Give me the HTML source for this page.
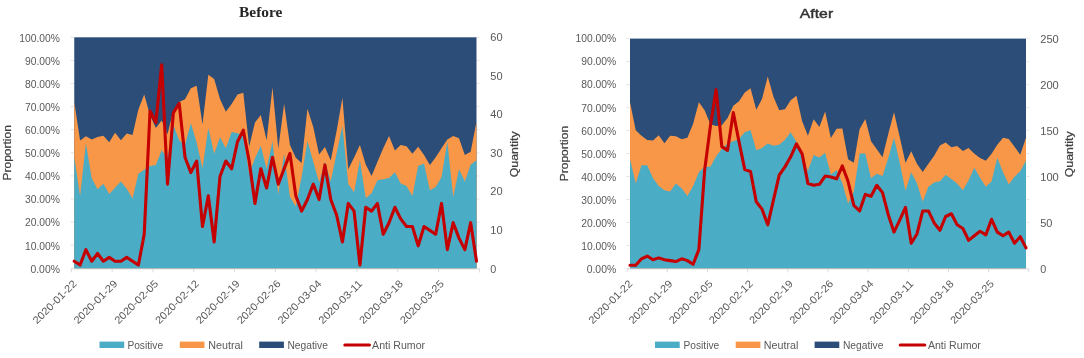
<!DOCTYPE html>
<html lang="en">
<head>
<meta charset="utf-8">
<title>Before / After sentiment proportion and anti-rumor quantity</title>
<style>
html,body{margin:0;padding:0;background:#ffffff;}
body{width:1084px;height:358px;overflow:hidden;font-family:"Liberation Sans", sans-serif;}
svg{display:block;}
svg text{font-family:"Liberation Sans", sans-serif;}
</style>
</head>
<body>
<svg width="1084" height="358" viewBox="0 0 1084 358">
<rect x="0" y="0" width="1084" height="358" fill="#ffffff"/>
<g id="chart-before">
<rect x="74.25" y="37.30" width="402.25" height="231.10" fill="#2c4d78"/>
<polygon points="74.25,268.40 74.25,102.01 80.08,140.60 85.91,136.21 91.74,139.45 97.57,136.90 103.40,135.75 109.23,142.22 115.06,132.74 120.89,140.14 126.72,133.44 132.55,135.06 138.38,109.40 144.21,94.38 150.04,115.18 155.87,127.89 161.70,120.50 167.53,134.13 173.36,110.33 179.18,102.01 185.01,99.23 190.84,88.14 196.67,85.83 202.50,124.19 208.33,74.74 214.16,78.90 219.99,99.00 225.82,111.71 231.65,104.09 237.48,94.38 243.31,92.76 249.14,146.84 254.97,122.58 260.80,114.95 266.63,140.14 272.46,87.22 278.29,148.69 284.12,103.86 289.95,144.99 295.78,157.70 301.61,163.02 307.44,108.71 313.27,126.97 319.10,154.47 324.93,147.07 330.76,160.48 336.59,130.90 342.42,97.85 348.25,169.26 354.08,157.47 359.91,144.99 365.74,164.41 371.57,175.96 377.39,162.09 383.22,148.23 389.05,135.98 394.88,150.54 400.71,144.99 406.54,146.15 412.37,153.77 418.20,146.84 424.03,154.93 429.86,165.10 435.69,157.24 441.52,148.23 447.35,139.45 453.18,135.98 459.01,138.29 464.84,154.93 470.67,151.69 476.50,121.65 476.50,268.40" fill="#f89747"/>
<polygon points="74.25,268.40 74.25,157.01 80.08,196.07 85.91,143.14 91.74,178.27 97.57,189.36 103.40,183.82 109.23,193.99 115.06,187.75 120.89,181.51 126.72,188.67 132.55,198.38 138.38,173.65 144.21,169.72 150.04,166.02 155.87,165.10 161.70,150.31 167.53,158.17 173.36,125.12 179.18,140.37 185.01,144.76 190.84,123.04 196.67,142.68 202.50,168.33 208.33,128.12 214.16,153.77 219.99,137.14 225.82,148.23 231.65,132.05 237.48,133.21 243.31,135.06 249.14,173.65 254.97,158.17 260.80,145.69 266.63,169.03 272.46,141.30 278.29,194.45 284.12,153.77 289.95,196.76 295.78,206.47 301.61,176.65 307.44,141.06 313.27,161.63 319.10,182.43 324.93,161.86 330.76,181.28 336.59,153.31 342.42,126.04 348.25,184.05 354.08,192.14 359.91,160.25 365.74,197.91 371.57,193.29 377.39,180.35 383.22,179.20 389.05,178.04 394.88,172.26 400.71,183.59 406.54,185.90 412.37,196.07 418.20,166.02 424.03,163.48 429.86,190.29 435.69,187.05 441.52,176.88 447.35,141.53 453.18,196.99 459.01,169.26 464.84,181.51 470.67,164.87 476.50,160.25 476.50,268.40" fill="#4bacc6"/>
<polyline points="74.25,261.20 80.08,265.05 85.91,249.64 91.74,261.20 97.57,253.49 103.40,261.20 109.23,257.34 115.06,261.20 120.89,261.20 126.72,257.34 132.55,261.20 138.38,265.05 144.21,234.23 150.04,110.98 155.87,122.54 161.70,64.76 167.53,184.16 173.36,112.91 179.18,103.28 185.01,157.20 190.84,172.61 196.67,161.05 202.50,226.53 208.33,195.72 214.16,241.94 219.99,176.46 225.82,161.05 231.65,168.76 237.48,141.79 243.31,130.24 249.14,161.05 254.97,203.42 260.80,168.76 266.63,188.01 272.46,157.20 278.29,184.16 284.12,168.76 289.95,153.35 295.78,195.72 301.61,211.12 307.44,199.57 313.27,184.16 319.10,199.57 324.93,164.91 330.76,199.57 336.59,214.98 342.42,241.94 348.25,203.42 354.08,211.12 359.91,265.05 365.74,207.27 371.57,211.12 377.39,203.42 383.22,234.23 389.05,222.68 394.88,207.27 400.71,218.83 406.54,226.53 412.37,226.53 418.20,245.79 424.03,226.53 429.86,230.38 435.69,234.23 441.52,203.42 447.35,249.64 453.18,222.68 459.01,238.09 464.84,249.64 470.67,222.68 476.50,261.20" fill="none" stroke="#c40000" stroke-width="3.1" stroke-linejoin="round" stroke-linecap="round"/>
<line x1="71.34" y1="269.00" x2="479.41" y2="269.00" stroke="#d9d9d9" stroke-width="0.8"/>
<line x1="71.34" y1="269.00" x2="71.34" y2="272.40" stroke="#d0d0d0" stroke-width="0.8"/>
<line x1="112.14" y1="269.00" x2="112.14" y2="272.40" stroke="#d0d0d0" stroke-width="0.8"/>
<line x1="152.95" y1="269.00" x2="152.95" y2="272.40" stroke="#d0d0d0" stroke-width="0.8"/>
<line x1="193.76" y1="269.00" x2="193.76" y2="272.40" stroke="#d0d0d0" stroke-width="0.8"/>
<line x1="234.57" y1="269.00" x2="234.57" y2="272.40" stroke="#d0d0d0" stroke-width="0.8"/>
<line x1="275.38" y1="269.00" x2="275.38" y2="272.40" stroke="#d0d0d0" stroke-width="0.8"/>
<line x1="316.18" y1="269.00" x2="316.18" y2="272.40" stroke="#d0d0d0" stroke-width="0.8"/>
<line x1="356.99" y1="269.00" x2="356.99" y2="272.40" stroke="#d0d0d0" stroke-width="0.8"/>
<line x1="397.80" y1="269.00" x2="397.80" y2="272.40" stroke="#d0d0d0" stroke-width="0.8"/>
<line x1="438.61" y1="269.00" x2="438.61" y2="272.40" stroke="#d0d0d0" stroke-width="0.8"/>
<line x1="479.41" y1="269.00" x2="479.41" y2="272.40" stroke="#d0d0d0" stroke-width="0.8"/>
<line x1="70.75" y1="268.40" x2="73.75" y2="268.40" stroke="#d9d9d9" stroke-width="0.8"/>
<line x1="477.00" y1="268.40" x2="479.50" y2="268.40" stroke="#e0e0e0" stroke-width="0.8"/>
<line x1="70.75" y1="245.29" x2="73.75" y2="245.29" stroke="#d9d9d9" stroke-width="0.8"/>
<line x1="477.00" y1="245.29" x2="479.50" y2="245.29" stroke="#e0e0e0" stroke-width="0.8"/>
<line x1="70.75" y1="222.18" x2="73.75" y2="222.18" stroke="#d9d9d9" stroke-width="0.8"/>
<line x1="477.00" y1="222.18" x2="479.50" y2="222.18" stroke="#e0e0e0" stroke-width="0.8"/>
<line x1="70.75" y1="199.07" x2="73.75" y2="199.07" stroke="#d9d9d9" stroke-width="0.8"/>
<line x1="477.00" y1="199.07" x2="479.50" y2="199.07" stroke="#e0e0e0" stroke-width="0.8"/>
<line x1="70.75" y1="175.96" x2="73.75" y2="175.96" stroke="#d9d9d9" stroke-width="0.8"/>
<line x1="477.00" y1="175.96" x2="479.50" y2="175.96" stroke="#e0e0e0" stroke-width="0.8"/>
<line x1="70.75" y1="152.85" x2="73.75" y2="152.85" stroke="#d9d9d9" stroke-width="0.8"/>
<line x1="477.00" y1="152.85" x2="479.50" y2="152.85" stroke="#e0e0e0" stroke-width="0.8"/>
<line x1="70.75" y1="129.74" x2="73.75" y2="129.74" stroke="#d9d9d9" stroke-width="0.8"/>
<line x1="477.00" y1="129.74" x2="479.50" y2="129.74" stroke="#e0e0e0" stroke-width="0.8"/>
<line x1="70.75" y1="106.63" x2="73.75" y2="106.63" stroke="#d9d9d9" stroke-width="0.8"/>
<line x1="477.00" y1="106.63" x2="479.50" y2="106.63" stroke="#e0e0e0" stroke-width="0.8"/>
<line x1="70.75" y1="83.52" x2="73.75" y2="83.52" stroke="#d9d9d9" stroke-width="0.8"/>
<line x1="477.00" y1="83.52" x2="479.50" y2="83.52" stroke="#e0e0e0" stroke-width="0.8"/>
<line x1="70.75" y1="60.41" x2="73.75" y2="60.41" stroke="#d9d9d9" stroke-width="0.8"/>
<line x1="477.00" y1="60.41" x2="479.50" y2="60.41" stroke="#e0e0e0" stroke-width="0.8"/>
<line x1="70.75" y1="37.30" x2="73.75" y2="37.30" stroke="#d9d9d9" stroke-width="0.8"/>
<line x1="477.00" y1="37.30" x2="479.50" y2="37.30" stroke="#e0e0e0" stroke-width="0.8"/>
<text x="59.95" y="272.70" text-anchor="end" font-size="10.5" fill="#595959" textLength="29.5" lengthAdjust="spacingAndGlyphs">0.00%</text>
<text x="59.95" y="249.59" text-anchor="end" font-size="10.5" fill="#595959" textLength="35.0" lengthAdjust="spacingAndGlyphs">10.00%</text>
<text x="59.95" y="226.48" text-anchor="end" font-size="10.5" fill="#595959" textLength="35.0" lengthAdjust="spacingAndGlyphs">20.00%</text>
<text x="59.95" y="203.37" text-anchor="end" font-size="10.5" fill="#595959" textLength="35.0" lengthAdjust="spacingAndGlyphs">30.00%</text>
<text x="59.95" y="180.26" text-anchor="end" font-size="10.5" fill="#595959" textLength="35.0" lengthAdjust="spacingAndGlyphs">40.00%</text>
<text x="59.95" y="157.15" text-anchor="end" font-size="10.5" fill="#595959" textLength="35.0" lengthAdjust="spacingAndGlyphs">50.00%</text>
<text x="59.95" y="134.04" text-anchor="end" font-size="10.5" fill="#595959" textLength="35.0" lengthAdjust="spacingAndGlyphs">60.00%</text>
<text x="59.95" y="110.93" text-anchor="end" font-size="10.5" fill="#595959" textLength="35.0" lengthAdjust="spacingAndGlyphs">70.00%</text>
<text x="59.95" y="87.82" text-anchor="end" font-size="10.5" fill="#595959" textLength="35.0" lengthAdjust="spacingAndGlyphs">80.00%</text>
<text x="59.95" y="64.71" text-anchor="end" font-size="10.5" fill="#595959" textLength="35.0" lengthAdjust="spacingAndGlyphs">90.00%</text>
<text x="59.95" y="41.60" text-anchor="end" font-size="10.5" fill="#595959" textLength="40.6" lengthAdjust="spacingAndGlyphs">100.00%</text>
<text x="490.30" y="272.60" font-size="11.2" fill="#595959" textLength="6.0" lengthAdjust="spacingAndGlyphs">0</text>
<text x="490.30" y="234.00" font-size="11.2" fill="#595959" textLength="12.3" lengthAdjust="spacingAndGlyphs">10</text>
<text x="490.30" y="195.40" font-size="11.2" fill="#595959" textLength="12.3" lengthAdjust="spacingAndGlyphs">20</text>
<text x="490.30" y="156.80" font-size="11.2" fill="#595959" textLength="12.3" lengthAdjust="spacingAndGlyphs">30</text>
<text x="490.30" y="118.20" font-size="11.2" fill="#595959" textLength="12.3" lengthAdjust="spacingAndGlyphs">40</text>
<text x="490.30" y="79.60" font-size="11.2" fill="#595959" textLength="12.3" lengthAdjust="spacingAndGlyphs">50</text>
<text x="490.30" y="41.00" font-size="11.2" fill="#595959" textLength="12.3" lengthAdjust="spacingAndGlyphs">60</text>
<text transform="translate(77.25,284.40) rotate(-45)" text-anchor="end" font-size="10.5" fill="#595959" textLength="56.8" lengthAdjust="spacingAndGlyphs">2020-01-22</text>
<text transform="translate(118.06,284.40) rotate(-45)" text-anchor="end" font-size="10.5" fill="#595959" textLength="56.8" lengthAdjust="spacingAndGlyphs">2020-01-29</text>
<text transform="translate(158.87,284.40) rotate(-45)" text-anchor="end" font-size="10.5" fill="#595959" textLength="56.8" lengthAdjust="spacingAndGlyphs">2020-02-05</text>
<text transform="translate(199.67,284.40) rotate(-45)" text-anchor="end" font-size="10.5" fill="#595959" textLength="56.8" lengthAdjust="spacingAndGlyphs">2020-02-12</text>
<text transform="translate(240.48,284.40) rotate(-45)" text-anchor="end" font-size="10.5" fill="#595959" textLength="56.8" lengthAdjust="spacingAndGlyphs">2020-02-19</text>
<text transform="translate(281.29,284.40) rotate(-45)" text-anchor="end" font-size="10.5" fill="#595959" textLength="56.8" lengthAdjust="spacingAndGlyphs">2020-02-26</text>
<text transform="translate(322.10,284.40) rotate(-45)" text-anchor="end" font-size="10.5" fill="#595959" textLength="56.8" lengthAdjust="spacingAndGlyphs">2020-03-04</text>
<text transform="translate(362.91,284.40) rotate(-45)" text-anchor="end" font-size="10.5" fill="#595959" textLength="56.8" lengthAdjust="spacingAndGlyphs">2020-03-11</text>
<text transform="translate(403.71,284.40) rotate(-45)" text-anchor="end" font-size="10.5" fill="#595959" textLength="56.8" lengthAdjust="spacingAndGlyphs">2020-03-18</text>
<text transform="translate(444.52,284.40) rotate(-45)" text-anchor="end" font-size="10.5" fill="#595959" textLength="56.8" lengthAdjust="spacingAndGlyphs">2020-03-25</text>
<text transform="translate(11.40,152.8) rotate(-90)" text-anchor="middle" font-size="10.8" fill="#404040" stroke="#404040" stroke-width="0.22" textLength="55.3" lengthAdjust="spacingAndGlyphs">Proportion</text>
<text transform="translate(517.60,154.3) rotate(-90)" text-anchor="middle" font-size="10.8" fill="#404040" stroke="#404040" stroke-width="0.22" textLength="46" lengthAdjust="spacingAndGlyphs">Quantity</text>
<text x="260.7" y="17.2" text-anchor="middle" style="font-family:&quot;Liberation Serif&quot;,serif" font-weight="bold" font-size="15.6" fill="#262626" textLength="43.2" lengthAdjust="spacingAndGlyphs">Before</text>
<rect x="99.50" y="341.6" width="24.7" height="6.4" fill="#4bacc6"/>
<text x="127.40" y="348.7" font-size="10.2" fill="#595959" textLength="35.7" lengthAdjust="spacingAndGlyphs">Positive</text>
<rect x="179.80" y="341.6" width="24.7" height="6.4" fill="#f89747"/>
<text x="208.30" y="348.7" font-size="10.2" fill="#595959" textLength="34.6" lengthAdjust="spacingAndGlyphs">Neutral</text>
<rect x="259.20" y="341.6" width="24.7" height="6.4" fill="#2c4d78"/>
<text x="287.40" y="348.7" font-size="10.2" fill="#595959" textLength="40.5" lengthAdjust="spacingAndGlyphs">Negative</text>
<line x1="344.80" y1="345.1" x2="369.50" y2="345.1" stroke="#c40000" stroke-width="3" stroke-linecap="round"/>
<text x="372.10" y="348.7" font-size="10.2" fill="#595959" textLength="53" lengthAdjust="spacingAndGlyphs">Anti Rumor</text>
</g>
<g id="chart-after">
<rect x="630.00" y="38.60" width="396.00" height="229.80" fill="#2c4d78"/>
<polygon points="630.00,268.40 630.00,102.25 635.74,130.29 641.48,135.81 647.22,139.94 652.96,140.40 658.70,135.35 664.43,143.16 670.17,135.81 675.91,136.26 681.65,139.25 687.39,137.64 693.13,123.63 698.87,102.25 704.61,110.30 710.35,124.32 716.09,125.92 721.83,125.23 727.57,118.11 733.30,105.70 739.04,101.34 744.78,92.60 750.52,88.24 756.26,109.84 762.00,99.04 767.74,76.52 773.48,96.74 779.22,110.30 784.96,109.15 790.70,100.19 796.43,95.82 802.17,121.33 807.91,135.81 813.65,119.26 819.39,127.07 825.13,111.45 830.87,138.10 836.61,128.68 842.35,128.45 848.09,159.24 853.83,162.69 859.57,129.14 865.30,119.03 871.04,141.32 876.78,149.13 882.52,157.18 888.26,133.97 894.00,112.37 899.74,136.95 905.48,162.69 911.22,151.20 916.96,163.84 922.70,171.88 928.43,163.84 934.17,155.80 939.91,145.46 945.65,142.47 951.39,147.30 957.13,145.92 962.87,150.97 968.61,147.98 974.35,153.73 980.09,158.10 985.83,160.85 991.57,153.73 997.30,144.77 1003.04,137.87 1008.78,139.02 1014.52,146.84 1020.26,154.65 1026.00,137.87 1026.00,268.40" fill="#f89747"/>
<polygon points="630.00,268.40 630.00,159.02 635.74,183.60 641.48,165.22 647.22,165.22 652.96,178.09 658.70,185.90 664.43,190.27 670.17,191.42 675.91,183.60 681.65,188.20 687.39,196.01 693.13,185.90 698.87,172.34 704.61,166.83 710.35,166.83 716.09,156.26 721.83,148.90 727.57,143.62 733.30,141.32 739.04,139.02 744.78,132.36 750.52,130.06 756.26,150.28 762.00,147.98 767.74,143.62 773.48,145.69 779.22,144.77 784.96,139.71 790.70,132.36 796.43,142.01 802.17,158.10 807.91,170.73 813.65,155.11 819.39,157.41 825.13,152.81 830.87,174.64 836.61,170.05 842.35,183.37 848.09,203.60 853.83,191.42 859.57,153.50 865.30,153.50 871.04,178.32 876.78,173.72 882.52,176.02 888.26,158.10 894.00,137.87 899.74,162.69 905.48,190.73 911.22,172.34 916.96,183.37 922.70,201.76 928.43,186.82 934.17,182.45 939.91,181.31 945.65,174.64 951.39,179.01 957.13,183.60 962.87,190.27 968.61,180.16 974.35,167.75 980.09,177.86 985.83,186.82 991.57,181.31 997.30,157.87 1003.04,172.34 1008.78,184.52 1014.52,176.71 1020.26,171.19 1026.00,160.85 1026.00,268.40" fill="#4bacc6"/>
<polyline points="630.00,265.22 635.74,265.22 641.48,258.79 647.22,256.03 652.96,259.71 658.70,257.87 664.43,259.71 670.17,260.63 675.91,261.55 681.65,258.79 687.39,260.63 693.13,264.30 698.87,249.60 704.61,170.55 710.35,126.42 716.09,89.66 721.83,146.65 727.57,150.32 733.30,112.64 739.04,142.05 744.78,169.63 750.52,171.46 756.26,201.80 762.00,209.15 767.74,224.78 773.48,199.96 779.22,175.14 784.96,166.87 790.70,156.76 796.43,143.89 802.17,154.00 807.91,183.41 813.65,185.25 819.39,184.33 825.13,176.06 830.87,176.98 836.61,178.82 842.35,165.95 848.09,181.58 853.83,205.48 859.57,210.99 865.30,194.44 871.04,196.28 876.78,185.25 882.52,192.61 888.26,214.67 894.00,232.13 899.74,220.18 905.48,207.31 911.22,243.16 916.96,233.97 922.70,210.99 928.43,210.99 934.17,222.94 939.91,230.29 945.65,216.51 951.39,213.75 957.13,224.78 962.87,228.46 968.61,240.40 974.35,235.81 980.09,231.21 985.83,234.89 991.57,219.26 997.30,232.13 1003.04,235.81 1008.78,232.13 1014.52,243.16 1020.26,236.73 1026.00,247.76" fill="none" stroke="#c40000" stroke-width="3.1" stroke-linejoin="round" stroke-linecap="round"/>
<line x1="627.13" y1="269.00" x2="1028.87" y2="269.00" stroke="#d9d9d9" stroke-width="0.8"/>
<line x1="627.13" y1="269.00" x2="627.13" y2="272.40" stroke="#d0d0d0" stroke-width="0.8"/>
<line x1="667.30" y1="269.00" x2="667.30" y2="272.40" stroke="#d0d0d0" stroke-width="0.8"/>
<line x1="707.48" y1="269.00" x2="707.48" y2="272.40" stroke="#d0d0d0" stroke-width="0.8"/>
<line x1="747.65" y1="269.00" x2="747.65" y2="272.40" stroke="#d0d0d0" stroke-width="0.8"/>
<line x1="787.83" y1="269.00" x2="787.83" y2="272.40" stroke="#d0d0d0" stroke-width="0.8"/>
<line x1="828.00" y1="269.00" x2="828.00" y2="272.40" stroke="#d0d0d0" stroke-width="0.8"/>
<line x1="868.17" y1="269.00" x2="868.17" y2="272.40" stroke="#d0d0d0" stroke-width="0.8"/>
<line x1="908.35" y1="269.00" x2="908.35" y2="272.40" stroke="#d0d0d0" stroke-width="0.8"/>
<line x1="948.52" y1="269.00" x2="948.52" y2="272.40" stroke="#d0d0d0" stroke-width="0.8"/>
<line x1="988.70" y1="269.00" x2="988.70" y2="272.40" stroke="#d0d0d0" stroke-width="0.8"/>
<line x1="1028.87" y1="269.00" x2="1028.87" y2="272.40" stroke="#d0d0d0" stroke-width="0.8"/>
<line x1="626.50" y1="268.40" x2="629.50" y2="268.40" stroke="#d9d9d9" stroke-width="0.8"/>
<line x1="1026.50" y1="268.40" x2="1029.00" y2="268.40" stroke="#e0e0e0" stroke-width="0.8"/>
<line x1="626.50" y1="245.42" x2="629.50" y2="245.42" stroke="#d9d9d9" stroke-width="0.8"/>
<line x1="1026.50" y1="245.42" x2="1029.00" y2="245.42" stroke="#e0e0e0" stroke-width="0.8"/>
<line x1="626.50" y1="222.44" x2="629.50" y2="222.44" stroke="#d9d9d9" stroke-width="0.8"/>
<line x1="1026.50" y1="222.44" x2="1029.00" y2="222.44" stroke="#e0e0e0" stroke-width="0.8"/>
<line x1="626.50" y1="199.46" x2="629.50" y2="199.46" stroke="#d9d9d9" stroke-width="0.8"/>
<line x1="1026.50" y1="199.46" x2="1029.00" y2="199.46" stroke="#e0e0e0" stroke-width="0.8"/>
<line x1="626.50" y1="176.48" x2="629.50" y2="176.48" stroke="#d9d9d9" stroke-width="0.8"/>
<line x1="1026.50" y1="176.48" x2="1029.00" y2="176.48" stroke="#e0e0e0" stroke-width="0.8"/>
<line x1="626.50" y1="153.50" x2="629.50" y2="153.50" stroke="#d9d9d9" stroke-width="0.8"/>
<line x1="1026.50" y1="153.50" x2="1029.00" y2="153.50" stroke="#e0e0e0" stroke-width="0.8"/>
<line x1="626.50" y1="130.52" x2="629.50" y2="130.52" stroke="#d9d9d9" stroke-width="0.8"/>
<line x1="1026.50" y1="130.52" x2="1029.00" y2="130.52" stroke="#e0e0e0" stroke-width="0.8"/>
<line x1="626.50" y1="107.54" x2="629.50" y2="107.54" stroke="#d9d9d9" stroke-width="0.8"/>
<line x1="1026.50" y1="107.54" x2="1029.00" y2="107.54" stroke="#e0e0e0" stroke-width="0.8"/>
<line x1="626.50" y1="84.56" x2="629.50" y2="84.56" stroke="#d9d9d9" stroke-width="0.8"/>
<line x1="1026.50" y1="84.56" x2="1029.00" y2="84.56" stroke="#e0e0e0" stroke-width="0.8"/>
<line x1="626.50" y1="61.58" x2="629.50" y2="61.58" stroke="#d9d9d9" stroke-width="0.8"/>
<line x1="1026.50" y1="61.58" x2="1029.00" y2="61.58" stroke="#e0e0e0" stroke-width="0.8"/>
<line x1="626.50" y1="38.60" x2="629.50" y2="38.60" stroke="#d9d9d9" stroke-width="0.8"/>
<line x1="1026.50" y1="38.60" x2="1029.00" y2="38.60" stroke="#e0e0e0" stroke-width="0.8"/>
<text x="616.20" y="273.00" text-anchor="end" font-size="10.5" fill="#595959" textLength="29.5" lengthAdjust="spacingAndGlyphs">0.00%</text>
<text x="616.20" y="249.93" text-anchor="end" font-size="10.5" fill="#595959" textLength="35.0" lengthAdjust="spacingAndGlyphs">10.00%</text>
<text x="616.20" y="226.86" text-anchor="end" font-size="10.5" fill="#595959" textLength="35.0" lengthAdjust="spacingAndGlyphs">20.00%</text>
<text x="616.20" y="203.79" text-anchor="end" font-size="10.5" fill="#595959" textLength="35.0" lengthAdjust="spacingAndGlyphs">30.00%</text>
<text x="616.20" y="180.72" text-anchor="end" font-size="10.5" fill="#595959" textLength="35.0" lengthAdjust="spacingAndGlyphs">40.00%</text>
<text x="616.20" y="157.65" text-anchor="end" font-size="10.5" fill="#595959" textLength="35.0" lengthAdjust="spacingAndGlyphs">50.00%</text>
<text x="616.20" y="134.58" text-anchor="end" font-size="10.5" fill="#595959" textLength="35.0" lengthAdjust="spacingAndGlyphs">60.00%</text>
<text x="616.20" y="111.51" text-anchor="end" font-size="10.5" fill="#595959" textLength="35.0" lengthAdjust="spacingAndGlyphs">70.00%</text>
<text x="616.20" y="88.44" text-anchor="end" font-size="10.5" fill="#595959" textLength="35.0" lengthAdjust="spacingAndGlyphs">80.00%</text>
<text x="616.20" y="65.37" text-anchor="end" font-size="10.5" fill="#595959" textLength="35.0" lengthAdjust="spacingAndGlyphs">90.00%</text>
<text x="616.20" y="42.30" text-anchor="end" font-size="10.5" fill="#595959" textLength="40.6" lengthAdjust="spacingAndGlyphs">100.00%</text>
<text x="1040.20" y="272.60" font-size="11.2" fill="#595959" textLength="6.0" lengthAdjust="spacingAndGlyphs">0</text>
<text x="1040.20" y="226.58" font-size="11.2" fill="#595959" textLength="12.3" lengthAdjust="spacingAndGlyphs">50</text>
<text x="1040.20" y="180.56" font-size="11.2" fill="#595959" textLength="18.6" lengthAdjust="spacingAndGlyphs">100</text>
<text x="1040.20" y="134.54" font-size="11.2" fill="#595959" textLength="18.6" lengthAdjust="spacingAndGlyphs">150</text>
<text x="1040.20" y="88.52" font-size="11.2" fill="#595959" textLength="18.6" lengthAdjust="spacingAndGlyphs">200</text>
<text x="1040.20" y="42.50" font-size="11.2" fill="#595959" textLength="18.6" lengthAdjust="spacingAndGlyphs">250</text>
<text transform="translate(633.00,284.40) rotate(-45)" text-anchor="end" font-size="10.5" fill="#595959" textLength="56.8" lengthAdjust="spacingAndGlyphs">2020-01-22</text>
<text transform="translate(673.17,284.40) rotate(-45)" text-anchor="end" font-size="10.5" fill="#595959" textLength="56.8" lengthAdjust="spacingAndGlyphs">2020-01-29</text>
<text transform="translate(713.35,284.40) rotate(-45)" text-anchor="end" font-size="10.5" fill="#595959" textLength="56.8" lengthAdjust="spacingAndGlyphs">2020-02-05</text>
<text transform="translate(753.52,284.40) rotate(-45)" text-anchor="end" font-size="10.5" fill="#595959" textLength="56.8" lengthAdjust="spacingAndGlyphs">2020-02-12</text>
<text transform="translate(793.70,284.40) rotate(-45)" text-anchor="end" font-size="10.5" fill="#595959" textLength="56.8" lengthAdjust="spacingAndGlyphs">2020-02-19</text>
<text transform="translate(833.87,284.40) rotate(-45)" text-anchor="end" font-size="10.5" fill="#595959" textLength="56.8" lengthAdjust="spacingAndGlyphs">2020-02-26</text>
<text transform="translate(874.04,284.40) rotate(-45)" text-anchor="end" font-size="10.5" fill="#595959" textLength="56.8" lengthAdjust="spacingAndGlyphs">2020-03-04</text>
<text transform="translate(914.22,284.40) rotate(-45)" text-anchor="end" font-size="10.5" fill="#595959" textLength="56.8" lengthAdjust="spacingAndGlyphs">2020-03-11</text>
<text transform="translate(954.39,284.40) rotate(-45)" text-anchor="end" font-size="10.5" fill="#595959" textLength="56.8" lengthAdjust="spacingAndGlyphs">2020-03-18</text>
<text transform="translate(994.57,284.40) rotate(-45)" text-anchor="end" font-size="10.5" fill="#595959" textLength="56.8" lengthAdjust="spacingAndGlyphs">2020-03-25</text>
<text transform="translate(567.70,153.6) rotate(-90)" text-anchor="middle" font-size="10.8" fill="#404040" stroke="#404040" stroke-width="0.22" textLength="55.3" lengthAdjust="spacingAndGlyphs">Proportion</text>
<text transform="translate(1072.50,154.3) rotate(-90)" text-anchor="middle" font-size="10.8" fill="#404040" stroke="#404040" stroke-width="0.22" textLength="46" lengthAdjust="spacingAndGlyphs">Quantity</text>
<text x="816.5" y="18.1" text-anchor="middle" font-size="13.6" fill="#333333" stroke="#333333" stroke-width="0.45" textLength="33.3" lengthAdjust="spacingAndGlyphs">After</text>
<rect x="655.00" y="341.6" width="24.7" height="6.4" fill="#4bacc6"/>
<text x="683.50" y="348.7" font-size="10.2" fill="#595959" textLength="35.7" lengthAdjust="spacingAndGlyphs">Positive</text>
<rect x="735.70" y="341.6" width="24.7" height="6.4" fill="#f89747"/>
<text x="763.80" y="348.7" font-size="10.2" fill="#595959" textLength="34.6" lengthAdjust="spacingAndGlyphs">Neutral</text>
<rect x="814.60" y="341.6" width="24.7" height="6.4" fill="#2c4d78"/>
<text x="842.90" y="348.7" font-size="10.2" fill="#595959" textLength="40.5" lengthAdjust="spacingAndGlyphs">Negative</text>
<line x1="900.20" y1="345.1" x2="924.80" y2="345.1" stroke="#c40000" stroke-width="3" stroke-linecap="round"/>
<text x="927.90" y="348.7" font-size="10.2" fill="#595959" textLength="53" lengthAdjust="spacingAndGlyphs">Anti Rumor</text>
</g>
</svg>
</body>
</html>
